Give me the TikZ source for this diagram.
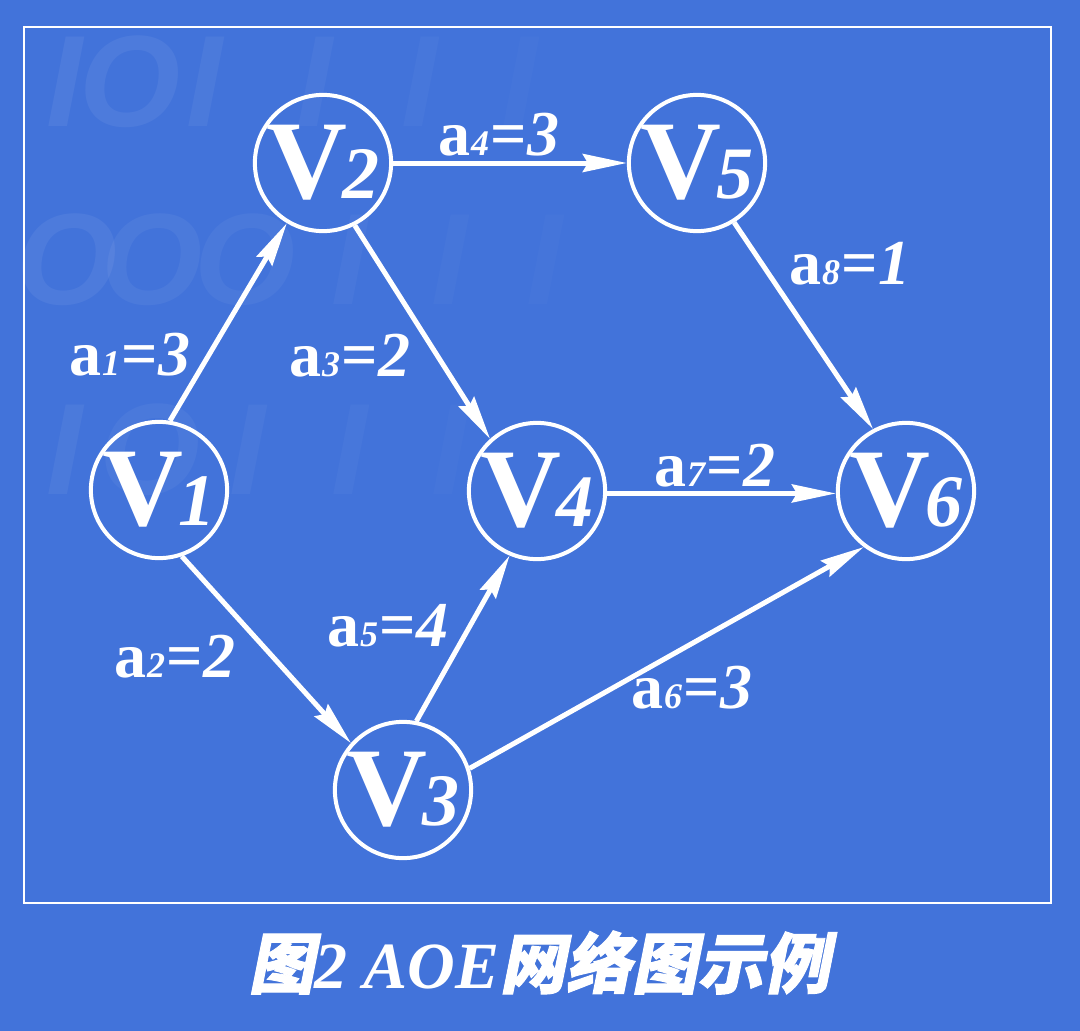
\documentclass[tikz,border=0pt]{standalone}
\usepackage{fontspec}
\setmainfont{Liberation Serif}
\setsansfont{Liberation Sans}
\newfontfamily\cjk[FakeSlant=0.2,FakeBold=1.5]{Noto Sans CJK SC}
\usetikzlibrary{arrows.meta}
\definecolor{bgblue}{RGB}{66,115,218}
\newcommand\vlab[1]{{\fontsize{112}{112}\selectfont\bfseries V\kern-4pt{\fontsize{74}{74}\selectfont\itshape #1}}}
\newcommand\elab[2]{{\fontsize{64}{64}\selectfont\bfseries a\kern0.5pt{\fontsize{36}{36}\selectfont\itshape #1}\kern1pt=\kern1pt{\itshape #2}}}
\tikzset{
  vert/.style={circle,draw=white,line width=4pt,minimum size=134pt,inner sep=0pt,text=white},
  edge/.style={draw=white,line width=5pt,-{Stealth[length=44pt,width=18pt,inset=5pt]}},
  elabel/.style={text=white,anchor=base,inner sep=0pt},
  wm/.style={text=white,inner sep=0pt,font=\fontsize{130}{130}\selectfont\sffamily\bfseries\itshape}
}
\begin{document}
\begin{tikzpicture}[x=1pt,y=-1pt]
\fill[bgblue] (0,0) rectangle (1080,1031);
\useasboundingbox (0,0) rectangle (1080,1031);
% faint watermark digits
\foreach \ch/\x/\o in {I/65/0.06,O/130/0.06,I/205/0.05,I/315/0.04,I/420/0.03,I/520/0.02}
  \node[wm,text opacity=\o] at (\x,82) {\ch};
\foreach \ch/\x/\o in {O/67/0.06,O/152/0.05,O/245/0.045,I/350/0.035,I/450/0.025,I/545/0.02}
  \node[wm,text opacity=\o] at (\x,260) {\ch};
\foreach \ch/\x/\o in {I/65/0.05,O/150/0.045,I/248/0.04,I/350/0.03,I/450/0.02}
  \node[wm,text opacity=\o] at (\x,450) {\ch};
% frame
\draw[white,line width=2pt] (24,27) rectangle (1051,903);
% vertices
\node[vert] (V1) at (159,490) {\vlab{1}};
\node[vert] (V2) at (323,163) {\vlab{2}};
\node[vert] (V5) at (697,163) {\vlab{5}};
\node[vert] (V4) at (537,491) {\vlab{4}};
\node[vert] (V6) at (906,491) {\vlab{6}};
\node[vert] (V3) at (403,790) {\vlab{3}};
% edges
\draw[edge] (V1.81) -- (V2.239);
\draw[edge] (V1.289) -- (V3.138);
\draw[edge] (V2.297) -- (V4.132);
\draw[edge] (V2.east) -- (V5.west);
\draw[edge] (V5.302) -- (V6.118);
\draw[edge] (V4.-2) -- (V6.182);
\draw[edge] (V3.79) -- (V4.247);
\draw[edge] (V3.18) -- (V6.233);
% edge labels
\node[elabel] (l1) at (130,375) {\elab{1}{3}};
\node[elabel] (l2) at (175,677) {\elab{2}{2}};
\node[elabel] (l3) at (350,376) {\elab{3}{2}};
\node[elabel] (l4) at (499,155) {\elab{4}{3}};
\node[elabel] (l5) at (388,646) {\elab{5}{4}};
\node[elabel] (l6) at (692,708) {\elab{6}{3}};
\node[elabel] (l7) at (715,486) {\elab{7}{2}};
\node[elabel] (l8) at (850,284) {\elab{8}{1}};
% caption
\node[text=white,anchor=base,inner sep=0pt] (cap) at (539,988)
  {\fontsize{66}{66}\selectfont{\cjk\bfseries 图}{\bfseries\itshape 2 AOE}{\cjk\bfseries 网络图示例}};
\end{tikzpicture}
\end{document}
